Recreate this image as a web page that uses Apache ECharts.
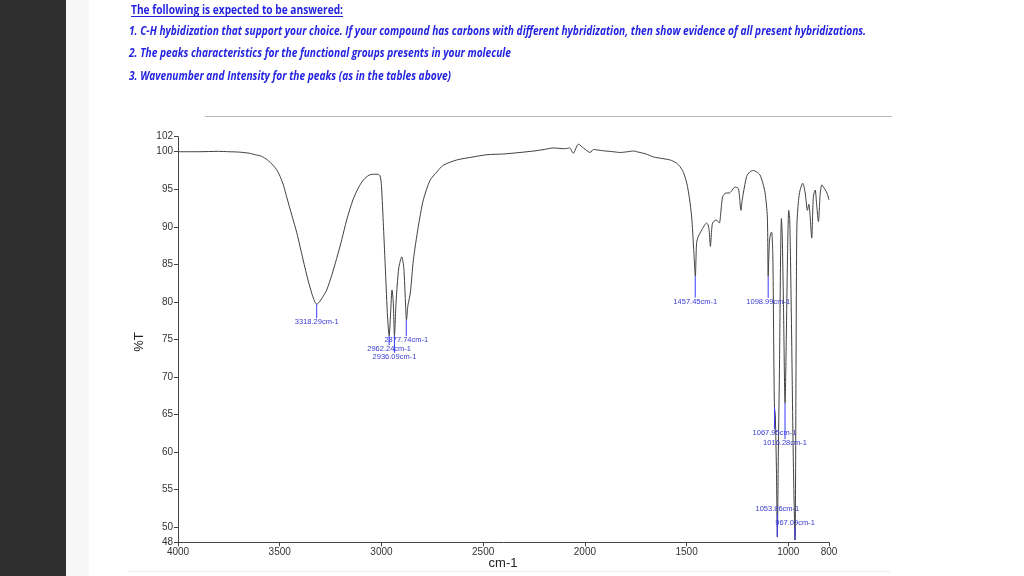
<!DOCTYPE html>
<html>
<head>
<meta charset="utf-8">
<script src="https://cdn.jsdelivr.net/npm/echarts@6/dist/echarts.min.js"></script>
<style>
html,body{margin:0;padding:0;background:#fff;}
#chart{width:1024px;height:576px;}
</style>
</head>
<body>
<div id="chart"></div>
<script>
// ---- data ----
const headerTitle = 'The following is expected to be answered:';
const questions = [
  '1. C-H hybidization that support your choice. If your compound has carbons with different hybridization, then show evidence of all present hybridizations.',
  '2. The peaks characteristics for the functional groups presents in your molecule',
  '3. Wavenumber and Intensity for the peaks (as in the tables above)'
];
const xTicks = [4000, 3500, 3000, 2500, 2000, 1500, 1000, 800];
const yTicks = [48, 50, 55, 60, 65, 70, 75, 80, 85, 90, 95, 100, 102];
const xName = 'cm-1';
const yName = '%T';

// spectrum: [wavenumber cm-1, %T]
const spectrum = [
  [4000,100],[3900,100],[3800,100.05],[3750,100],[3700,99.95],[3650,99.8],[3620,99.6],[3590,99.4],
  [3560,98.9],[3533,98.2],[3515,97.6],[3498,96.7],[3480,95.4],[3466,94.0],[3440,91.5],[3416,89.2],
  [3385,85.6],[3360,82.8],[3343,81.2],[3332,80.3],[3318,79.7],[3305,80.0],[3290,80.6],[3269,81.6],
  [3245,83.5],[3220,85.8],[3195,88.3],[3171,90.9],[3140,93.6],[3115,95.1],[3090,96.2],[3060,96.9],
  [3040,97.0],[3020,97.0],[3007,96.8],[3000,95.5],[2990,90.0],[2980,84.0],[2970,78.0],[2962,75.5],
  [2955,78.5],[2948,81.6],[2942,80.0],[2936,75.5],[2928,80.0],[2915,84.5],[2900,86.0],[2890,84.5],
  [2882,80.0],[2877,77.6],[2870,79.5],[2858,81.2],[2843,85.6],[2819,90.0],[2794,93.6],[2761,96.2],
  [2728,97.3],[2696,98.2],[2630,98.9],[2550,99.3],[2482,99.6],[2400,99.7],[2319,99.9],[2250,100.1],
  [2200,100.3],[2155,100.5],[2100,100.4],[2075,100.5],[2057,99.8],[2032,101.0],[2007,100.5],[1974,99.9],
  [1958,100.3],[1930,100.2],[1900,100.1],[1860,100.0],[1827,99.9],
  [1790,100.0],[1760,100.1],[1745,100.0],[1700,99.7],[1663,99.3],[1620,99.1],[1581,98.9],[1550,98.5],
  [1532,98.0],[1515,97.2],[1499,95.8],[1486,93.8],[1475,91.3],[1465,87.0],[1457,83.4],[1451,87.8],
  [1443,88.7],[1425,89.6],[1410,90.3],[1402,90.5],[1395,90.3],[1389,89.5],[1383,87.4],[1377,89.5],
  [1372,90.5],[1356,90.9],[1345,90.7],[1339,90.5],[1323,94.0],[1306,94.5],[1290,94.5],[1281,94.7],
  [1262,95.3],[1246,95.1],[1240,94.0],[1233,92.2],[1227,93.5],[1221,94.5],[1205,96.7],[1190,97.3],
  [1172,97.5],[1155,97.3],[1139,96.9],[1125,95.8],[1114,94.5],[1103,91.3],[1099,83.4],[1093,88.0],
  [1087,89.1],[1082,89.3],[1076,86.0],[1071,72.0],[1068,66.0],[1064,65.0],[1058,57.0],[1054,48.7],
  [1049,60.0],[1043,72.3],[1038,86.0],[1034,91.1],[1030,89.0],[1024,80.0],[1016,66.5],[1010,75.0],
  [1004,86.0],[998,92.2],[993,91.0],[985,78.0],[976,60.0],[967,48.3],[962,72.0],[958,90.0],
  [950,93.5],[942,94.9],[929,95.8],[917,94.5],[906,92.2],[899,93.0],[893,91.5],[885,88.5],
  [877,94.0],[868,94.9],[860,92.7],[852,90.7],[843,94.5],[835,95.6],[827,95.3],[810,94.5],[800,93.6]
];

// annotated peaks
const peakWn = [3318.29, 2962.24, 2936.09, 2877.74, 1457.45, 1098.99, 1067.95, 1053.86, 1016.28, 967.09];
const peakT  = [79.7, 75.5, 75.5, 77.6, 83.4, 83.4, 66.0, 48.7, 66.5, 48.3];
const labelT = [77.3, 73.7, 72.7, 74.9, 80.05, 80.0, 62.5, 52.4, 61.2, 50.6];

// ---- chart ----
const chart = echarts.init(document.getElementById('chart'), null, {renderer: 'canvas'});

const mctx = document.createElement('canvas').getContext('2d');
function fitScale(text, font, w) {
  mctx.font = font;
  const m = mctx.measureText(text).width;
  return m > 0 ? w / m : 1;
}

const blue = '#2323e0';
const qFont = 'italic bold 12px "Open Sans"';
const hFont = 'bold 12px "Open Sans"';
const qLayout = [
  {x: 129, y: 32, w: 737},
  {x: 129, y: 54, w: 382},
  {x: 129, y: 76.5, w: 322}
];

const graphics = [
  {type: 'rect', left: 0, top: 0, shape: {x: 0, y: 0, width: 66, height: 576}, style: {fill: '#2f2f2f'}, silent: true, z: -10},
  {type: 'rect', left: 66, top: 0, shape: {x: 0, y: 0, width: 23, height: 576}, style: {fill: '#f7f7f7'}, silent: true, z: -10},
  {type: 'text', x: 131, y: 10.5, scaleX: fitScale(headerTitle, hFont, 212),
    style: {text: headerTitle, font: hFont, fill: blue, verticalAlign: 'middle'}},
  {type: 'line', shape: {x1: 131, y1: 16.5, x2: 343, y2: 16.5}, style: {stroke: blue, lineWidth: 1}},
  {type: 'line', shape: {x1: 205, y1: 116.5, x2: 892, y2: 116.5}, style: {stroke: '#b8b8b8', lineWidth: 1}},
  {type: 'line', shape: {x1: 128, y1: 571.5, x2: 890, y2: 571.5}, style: {stroke: '#ececec', lineWidth: 1}},
  {type: 'text', x: 503, y: 563, style: {text: xName, font: '13px "Liberation Sans"', fill: '#222', align: 'center', verticalAlign: 'middle'}},
  {type: 'text', x: 139, y: 342, rotation: Math.PI / 2, style: {text: yName, font: '13px "Liberation Sans"', fill: '#222', align: 'center', verticalAlign: 'middle'}}
];
questions.forEach((q, i) => {
  const L = qLayout[i];
  graphics.push({type: 'text', x: L.x, y: L.y, scaleX: fitScale(q, qFont, L.w),
    style: {text: q, font: qFont, fill: blue, verticalAlign: 'middle'}});
});

const annData = peakWn.map((w, i) => [w, peakT[i], labelT[i]]);

const option = {
  animation: false,
  backgroundColor: '#ffffff',
  grid: {left: 178, right: 195, top: 136.7, bottom: 33.7, containLabel: false},
  xAxis: {
    type: 'value', inverse: true, min: 800, max: 4000,
    axisLine: {show: true, lineStyle: {color: '#444', width: 1}},
    axisTick: {show: true, length: 4, lineStyle: {color: '#444'}, customValues: xTicks},
    axisLabel: {show: true, margin: 5, color: '#333', fontSize: 10, fontFamily: 'Liberation Sans',
      customValues: xTicks, formatter: v => String(v)},
    splitLine: {show: false}
  },
  yAxis: {
    type: 'value', min: 48, max: 102,
    axisLine: {show: true, lineStyle: {color: '#444', width: 1}},
    axisTick: {show: true, length: 4, lineStyle: {color: '#444'}, customValues: yTicks},
    axisLabel: {show: true, margin: 5, color: '#333', fontSize: 10, fontFamily: 'Liberation Sans',
      customValues: yTicks, formatter: v => String(v)},
    splitLine: {show: false}
  },
  graphic: graphics,
  series: [
    {
      type: 'line', data: spectrum, showSymbol: false, smooth: 0.25,
      lineStyle: {color: '#404040', width: 1}, z: 3
    },
    {
      type: 'custom', data: annData, z: 4, clip: false,
      renderItem: function (params, api) {
        const p = api.coord([api.value(0), api.value(1)]);
        const l = api.coord([api.value(0), api.value(2)]);
        const down = l[1] > p[1];
        const y2 = down ? l[1] - 4 : l[1] + 4;
        const txt = api.value(0).toFixed(2) + 'cm-1';
        return {
          type: 'group',
          children: [
            {type: 'line', shape: {x1: p[0], y1: p[1], x2: p[0], y2: y2}, style: {stroke: '#3b3bff', lineWidth: 1}},
            {type: 'text', style: {text: txt, x: l[0], y: l[1], align: 'center', verticalAlign: 'middle',
              font: '7.5px "Liberation Sans"', fill: '#3a3ad0'}}
          ]
        };
      }
    }
  ]
};
chart.setOption(option);
</script>
</body>
</html>
